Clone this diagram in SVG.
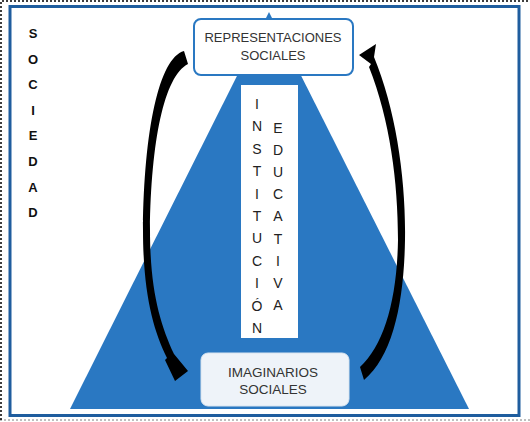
<svg xmlns="http://www.w3.org/2000/svg" width="530" height="422" viewBox="0 0 530 422">
<style>
.lbl{font-family:"Liberation Sans",Arial,sans-serif;fill:#333;text-anchor:middle}
.v{font-family:"Liberation Sans",Arial,sans-serif;font-size:14px;fill:#222;text-anchor:middle}
.s{font-family:"Liberation Sans",Arial,sans-serif;font-size:13px;font-weight:bold;fill:#111;text-anchor:middle}
.arrow{fill:#000}
</style>
<rect width="530" height="422" fill="#fff"/>
<path d="M1,420 V1 H529" fill="none" stroke="#000" stroke-width="1.5" stroke-dasharray="2,2"/>
<line x1="0" y1="420" x2="530" y2="420" stroke="#000" stroke-width="1" stroke-dasharray="2,2" opacity="0.5"/>
<rect x="10" y="6.5" width="509" height="409" fill="none" stroke="#1f5d9e" stroke-width="3"/>
<g id="sociedad">
<text class="s" x="33" y="38">S</text>
<text class="s" x="33" y="63.6">O</text>
<text class="s" x="33" y="89.2">C</text>
<text class="s" x="33" y="114.8">I</text>
<text class="s" x="33" y="140.4">E</text>
<text class="s" x="33" y="166">D</text>
<text class="s" x="33" y="191.6">A</text>
<text class="s" x="33" y="217.2">D</text>
</g>
<g id="piramide">
<polygon points="269,12 70,409 469,409" fill="#2a78c2"/>
</g>
<g id="institucion">
<rect x="241" y="85" width="57" height="253" fill="#fff"/>
<text class="v" x="257" y="109">I</text>
<text class="v" x="257" y="131.4">N</text>
<text class="v" x="257" y="153.8">S</text>
<text class="v" x="257" y="176.2">T</text>
<text class="v" x="257" y="198.6">I</text>
<text class="v" x="257" y="221">T</text>
<text class="v" x="257" y="243.4">U</text>
<text class="v" x="257" y="265.8">C</text>
<text class="v" x="257" y="288.2">I</text>
<text class="v" x="257" y="310.6">Ó</text>
<text class="v" x="257" y="333">N</text>
<text class="v" x="278" y="133">E</text>
<text class="v" x="278" y="155.1">D</text>
<text class="v" x="278" y="177.2">U</text>
<text class="v" x="278" y="199.3">C</text>
<text class="v" x="278" y="221.4">A</text>
<text class="v" x="278" y="243.5">T</text>
<text class="v" x="278" y="265.6">I</text>
<text class="v" x="278" y="287.7">V</text>
<text class="v" x="278" y="309.8">A</text>
</g>
<g id="representaciones">
<rect x="194" y="19" width="159" height="56" rx="7" fill="#fff" stroke="#2a78c2" stroke-width="2"/>
<text class="lbl" x="273" y="42" font-size="13">REPRESENTACIONES</text>
<text class="lbl" x="273" y="60" font-size="13">SOCIALES</text>
</g>
<g id="imaginarios">
<rect x="201" y="353" width="148" height="53" rx="7" fill="#eef3f9" stroke="#d8e4f0" stroke-width="1"/>
<text class="lbl" x="273" y="377" font-size="13.5">IMAGINARIOS</text>
<text class="lbl" x="273" y="394" font-size="13.5">SOCIALES</text>
</g>
<g id="connectors">
<path class="arrow" d="M184,51 C159,58 144,130 143,230 C143,292 153,330 167,358 L165,360 L175,381 L188,371 L174,354 C160,324 150,290 150,230 C151,142 164,76 188,64 Z"/>
<path class="arrow" d="M359,55 L376,44 L374,57 C396,110 406,180 405,240 C404,302 393,356 364,380 L360,367 C384,345 397,300 398,240 C398,182 390,120 369,67 L371,64 Z"/>
</g>
</svg>
